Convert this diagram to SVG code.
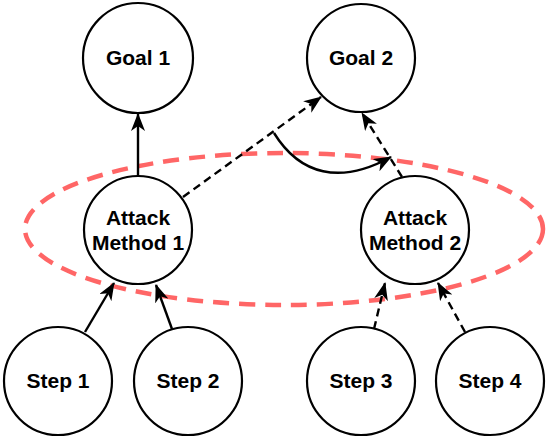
<svg xmlns="http://www.w3.org/2000/svg" width="550" height="441" viewBox="0 0 550 441">
<style>
.node circle{fill:#fff;stroke:#000;stroke-width:2.2}
.node text{font-family:"Liberation Sans",Arial,sans-serif;font-weight:bold;font-size:21px;text-anchor:middle;fill:#000}
.edge{fill:none;stroke:#000;stroke-width:2.4}
.dash{stroke-dasharray:8 5}
.group{fill:none;stroke:#ff6666;stroke-width:4.5;stroke-dasharray:16 10}
</style>
<defs>
<marker id="arr" viewBox="0 0 18 14" refX="17" refY="7" markerWidth="18" markerHeight="14" markerUnits="userSpaceOnUse" orient="auto">
<path d="M0,0 L18,7 L0,14 L5,7 z" fill="#000"/>
</marker>
</defs>
<rect width="550" height="441" fill="#fff"/>
<g id="nodes">
<g id="goal1" class="node"><circle cx="138" cy="58" r="55"/><text x="138" y="65">Goal 1</text></g>
<g id="goal2" class="node"><circle cx="361" cy="58" r="54"/><text x="361" y="65">Goal 2</text></g>
<g id="am1" class="node"><circle cx="138" cy="230" r="54"/><text x="138" y="225">Attack</text><text x="138" y="250">Method 1</text></g>
<g id="am2" class="node"><circle cx="415" cy="230" r="54"/><text x="415" y="225">Attack</text><text x="415" y="250">Method 2</text></g>
<g id="step1" class="node"><circle cx="58" cy="381" r="54"/><text x="58" y="388">Step 1</text></g>
<g id="step2" class="node"><circle cx="188" cy="381" r="54"/><text x="188" y="388">Step 2</text></g>
<g id="step3" class="node"><circle cx="361" cy="381" r="54"/><text x="361" y="388">Step 3</text></g>
<g id="step4" class="node"><circle cx="490" cy="381" r="54"/><text x="490" y="388">Step 4</text></g>
</g>
<ellipse id="group" class="group" cx="284" cy="229" rx="259" ry="76"/>
<g id="connectors">
<path class="edge" d="M138,176 L138,114" marker-end="url(#arr)"/>
<path class="edge dash" d="M183,197 L321,97" marker-end="url(#arr)"/>
<path class="edge" d="M274,133 C300,175 340,185 391,157" marker-end="url(#arr)"/>
<path class="edge dash" d="M402,177 L362,113" marker-end="url(#arr)"/>
<path class="edge" d="M85,332 L114,283" marker-end="url(#arr)"/>
<path class="edge" d="M172,329 L156,285" marker-end="url(#arr)"/>
<path class="edge dash" d="M374,329 L385,283" marker-end="url(#arr)"/>
<path class="edge dash" d="M465,332 L438,283" marker-end="url(#arr)"/>
</g>
</svg>
